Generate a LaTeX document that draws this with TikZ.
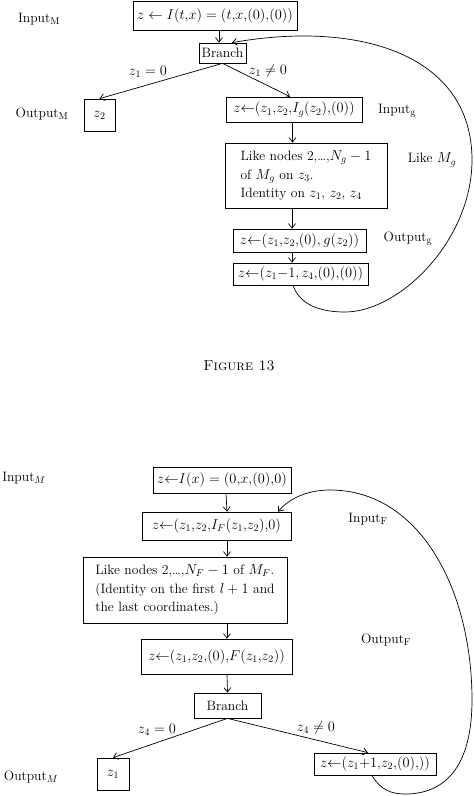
\documentclass[tikz,border=0pt]{standalone}
\usetikzlibrary{arrows.meta}
\AtBeginDocument{\mathcode`\,="013B}
\begin{document}
\begin{tikzpicture}[x=1pt,y=-1pt,
  font=\fontsize{13.6}{18.5}\selectfont,
  box/.style={draw,line width=0.7pt,inner sep=0pt},
  lbl/.style={inner sep=0pt},
  arr/.style={line width=0.7pt,-{Straight Barb[length=4.5pt,width=7pt]}},
  loop/.style={line width=0.7pt}]
\useasboundingbox (0,0) rectangle (474,796);

% ---------- upper diagram ----------
\node[box,minimum width=164,minimum height=29] (A1) at (215,15.5) {$z \leftarrow I(t,x)=(t,x,(0),(0))$};
\node[box,minimum width=47,minimum height=20] (Br1) at (222.5,53) {Branch};
\node[box,minimum width=31,minimum height=32] (Z2) at (99.5,115) {$z_2$};
\node[box,minimum width=136,minimum height=25] (IG) at (294,109.5) {$z{\leftarrow}(z_1,z_2,I_g(z_2),(0))$};
\node[box,minimum width=162,minimum height=65,align=left] (LK) at (306,175.5)
  {Like nodes 2,\dots,$N_g-1$\\ of $M_g$ on $z_3$.\\ Identity on $z_1$, $z_2$, $z_4$};
\node[box,minimum width=133,minimum height=23] (OG) at (299.5,240.5) {$z{\leftarrow}(z_1,z_2,(0),\,g(z_2))$};
\node[box,minimum width=135,minimum height=22] (LS) at (300.5,274) {$z{\leftarrow}(z_1{-}1,\,z_4,(0),(0))$};

\node[lbl] (tInM) at (39,19) {Input$_{\mathrm M}$};
\node[lbl] (tOutM) at (42,114) {Output$_{\mathrm M}$};
\node[lbl] (tInG) at (397,111) {Input$_{\mathrm g}$};
\node[lbl] (tLikeM) at (432,160) {Like $M_g$};
\node[lbl] (tOutG) at (408,239) {Output$_{\mathrm g}$};
\node[lbl] (tZa) at (148,72) {$z_1=0$};
\node[lbl] (tZb) at (268,71) {$z_1\neq0$};

\draw[arr] ([xshift=4pt]A1.south) -- ([xshift=-3.5pt]Br1.north);
\draw[arr] (Br1.south) -- (Z2.north);
\draw[arr] (Br1.south) -- ([xshift=-4pt]IG.north);
\draw[arr] ([xshift=-1.5pt]IG.south) -- ([xshift=-13.5pt]LK.north);
\draw[arr] ([xshift=-14pt]LK.south) -- ([xshift=-7.5pt]OG.north);
\draw[arr] ([xshift=-7.5pt]OG.south) -- ([xshift=-8.5pt]LS.north);
\draw[loop,arr] ([xshift=-7.5pt]LS.south) .. controls (300,305) and (320,312) .. (345,312)
  .. controls (400,312) and (472,240) .. (472,160)
  .. controls (472,55) and (360,20) .. ([xshift=9.5pt]Br1.north);

\node[lbl] (cap) at (239,366) {\fontsize{14.5}{16}\selectfont\textsc{Figure 13}};

% ---------- lower diagram ----------
\node[box,minimum width=138,minimum height=26] (B1) at (222,480) {$z{\leftarrow}I(x)=(0,x,(0),0)$};
\node[box,minimum width=149,minimum height=28] (B2) at (216.5,526) {$z{\leftarrow}(z_1,z_2,I_F(z_1,z_2),0)$};
\node[box,minimum width=204,minimum height=66,align=left] (B3) at (185,590)
  {Like nodes 2,\dots,$N_F-1$ of $M_F$.\\ (Identity on the first $l+1$ and\\ the last coordinates.)};
\node[box,minimum width=151,minimum height=35] (B4) at (216.5,656.5) {$z{\leftarrow}(z_1,z_2,(0),F(z_1,z_2))$};
\node[box,minimum width=67,minimum height=25] (Br2) at (227.5,705.5) {Branch};
\node[box,minimum width=32,minimum height=32] (Z1) at (113,774) {$z_1$};
\node[box,minimum width=122,minimum height=22] (RB) at (375,764) {$z{\leftarrow}(z_1{+}1,z_2,(0),))$};

\node[lbl] (uInM) at (24,478) {Input$_M$};
\node[lbl] (uOutM) at (31,777) {Output$_M$};
\node[lbl] (uInF) at (368,519) {Input$_{\mathrm F}$};
\node[lbl] (uOutF) at (386,640) {Output$_{\mathrm F}$};
\node[lbl] (uZa) at (157,730) {$z_4=0$};
\node[lbl] (uZb) at (316,728) {$z_4\neq0$};

\draw[arr] ([xshift=4pt]B1.south) -- ([xshift=10.5pt]B2.north);
\draw[arr] ([xshift=10.5pt]B2.south) -- ([xshift=42pt]B3.north);
\draw[arr] ([xshift=42pt]B3.south) -- ([xshift=10.5pt]B4.north);
\draw[arr] ([xshift=10.5pt]B4.south) -- (Br2.north);
\draw[arr] (Br2.south) -- (Z1.north);
\draw[arr] (Br2.south) -- ([xshift=-7pt]RB.north);
\draw[loop,arr] ([xshift=-3pt]RB.south) .. controls (380,790) and (392,794) .. (405,794)
  .. controls (450,794) and (472,760) .. (472,700)
  .. controls (472,590) and (420,490) .. (330,490)
  .. controls (305,490) and (288,500) .. ([xshift=61.5pt]B2.north);
\end{tikzpicture}
\end{document}
